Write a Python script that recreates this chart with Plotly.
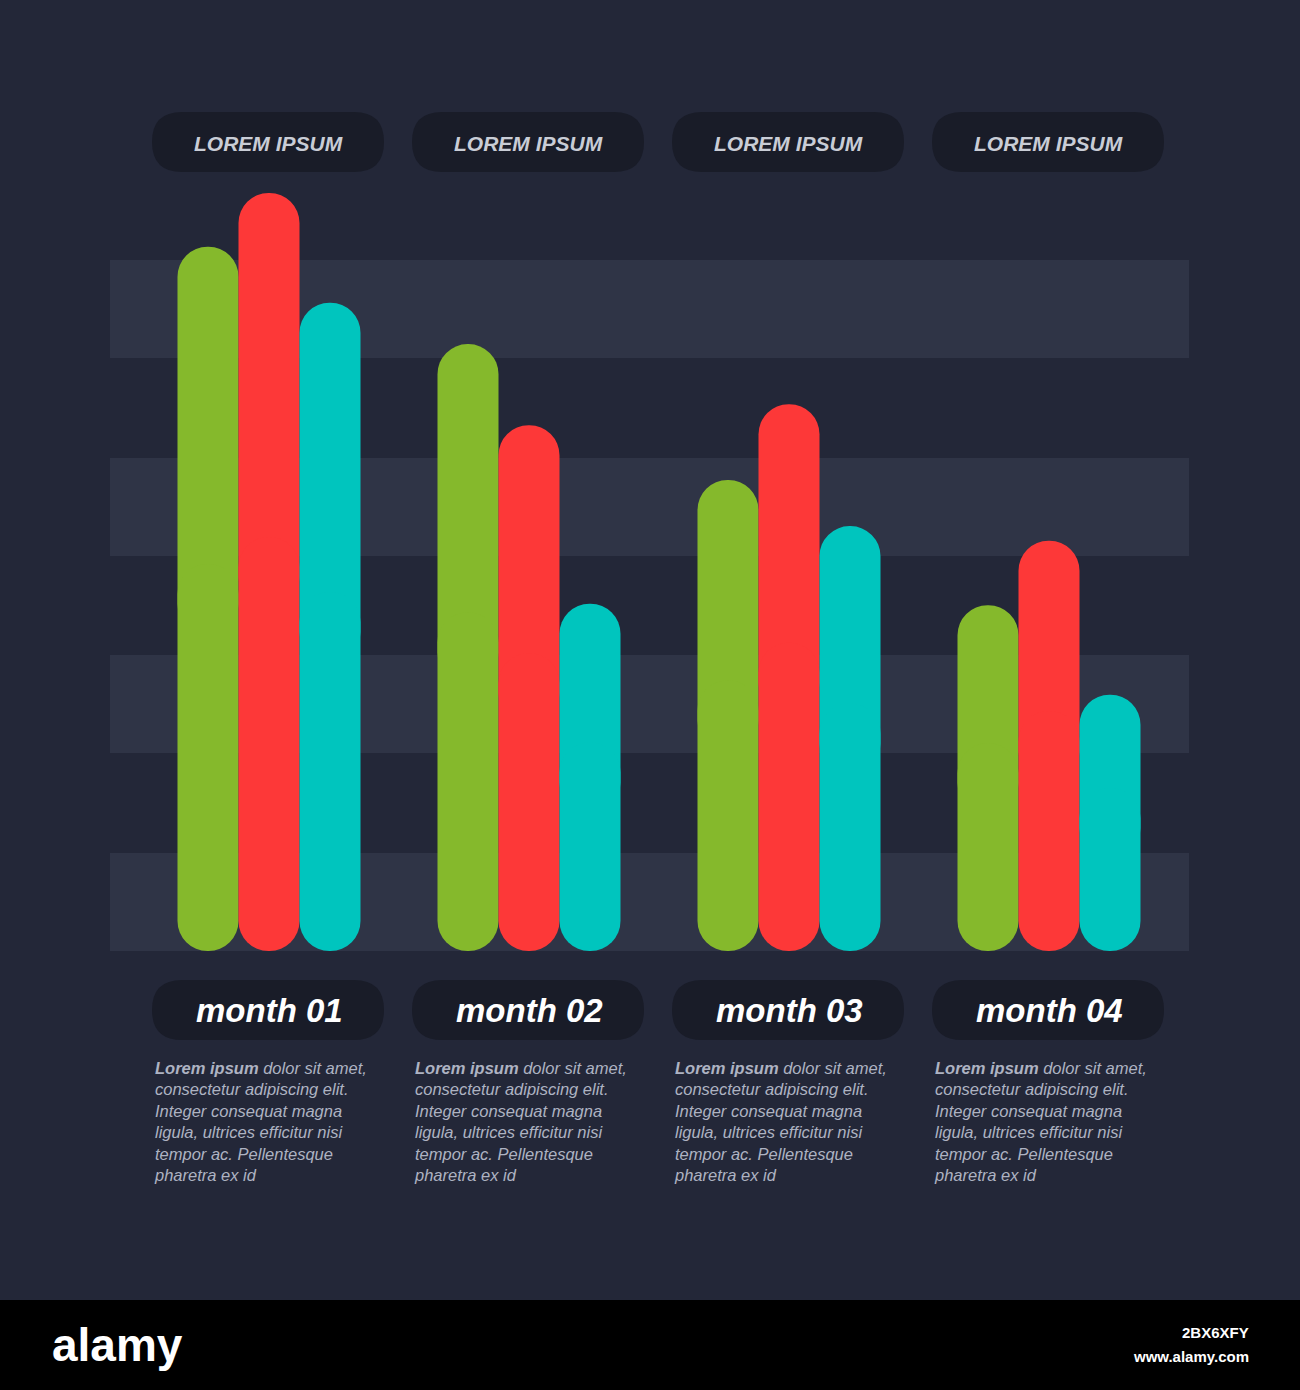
import plotly.graph_objects as go

W, H = 1300, 1390

months = ["month 01", "month 02", "month 03", "month 04"]
headers = ["LOREM IPSUM"] * 4
series_colors = ["#85b92c", "#fd3838", "#00c5be"]
green = [100.6, 86.7, 67.3, 49.4]
red = [108.3, 75.1, 78.1, 58.6]
teal = [92.6, 49.6, 60.7, 36.6]
blurb = ("<b>Lorem ipsum</b> dolor sit amet,<br>consectetur adipiscing elit.<br>"
         "Integer consequat magna<br>ligula, ultrices efficitur nisi<br>"
         "tempor ac. Pellentesque<br>pharetra ex id")

BG = "#232738"
BAND = "#2f3446"
PILL = "#191c28"

# pixel helpers (for decoration only)
def px(x):
    return x / W

def py(y):
    return 1 - y / H

def pill(x0, y0, x1, y1):
    r = (y1 - y0) / 2
    p = [f"M {px(x0 + r)} {py(y0)}", f"L {px(x1 - r)} {py(y0)}",
         f"Q {px(x1)} {py(y0)} {px(x1)} {py(y0 + r)}",
         f"Q {px(x1)} {py(y1)} {px(x1 - r)} {py(y1)}",
         f"L {px(x0 + r)} {py(y1)}",
         f"Q {px(x0)} {py(y1)} {px(x0)} {py(y0 + r)}",
         f"Q {px(x0)} {py(y0)} {px(x0 + r)} {py(y0)} Z"]
    return dict(type="path", xref="paper", yref="paper", path=" ".join(p),
                fillcolor=PILL, line_width=0, layer="below")

fig = go.Figure()

bw = 61 / 260
ov = 5  # overlap so the inner rounded ends are hidden
x = list(range(len(months)))
for k, vals in enumerate([green, red, teal]):
    off = (k - 1.5) * bw
    mk = dict(color=series_colors[k], cornerradius=30, line_width=0)
    # upper part, rounded top
    fig.add_trace(go.Bar(x=x, y=[v / 2 + ov for v in vals], base=[v / 2 - ov for v in vals],
                         width=bw, offset=off, marker=mk, showlegend=False, hoverinfo="skip"))
    # lower part, drawn downwards so its bottom is rounded
    fig.add_trace(go.Bar(x=x, y=[-(v / 2 + ov) for v in vals], base=[v / 2 + ov for v in vals],
                         width=bw, offset=off, marker=mk, showlegend=False, hoverinfo="skip"))

shapes = []
for y0 in [260, 458, 655, 853]:
    shapes.append(dict(type="rect", xref="paper", yref="paper", x0=px(110), x1=px(1189),
                       y0=py(y0 + 98), y1=py(y0), fillcolor=BAND, line_width=0, layer="below"))
shapes.append(dict(type="rect", xref="paper", yref="paper", x0=0, x1=1, y0=0, y1=py(1300),
                   fillcolor="#000000", line_width=0, layer="below"))

ann = []
for i, m in enumerate(months):
    cx = 269 + 260 * i
    shapes.append(pill(cx - 117, 112, cx + 115, 172))
    shapes.append(pill(cx - 117, 980, cx + 115, 1040))
    ann.append(dict(x=px(cx - 1), y=py(143), text=f"<b><i>{headers[i]}</i></b>",
                    xanchor="center", yanchor="middle",
                    font=dict(size=21, color="#c9cdd6")))
    ann.append(dict(x=px(cx), y=py(1010), text=f"<b><i>{m}</i></b>",
                    xanchor="center", yanchor="middle",
                    font=dict(size=33, color="#ffffff")))
    ann.append(dict(x=px(cx - 117), y=py(1057), text=f"<i>{blurb}</i>", xanchor="left",
                    yanchor="top", align="left", font=dict(size=16.5, color="#aeb3c2")))

ann.append(dict(x=px(50), y=py(1345), text="<b>alamy</b>", xanchor="left", yanchor="middle",
                font=dict(size=46, color="#ffffff", family="Liberation Sans Narrow, Arial")))
ann.append(dict(x=px(1251), y=py(1332), text="<b>2BX6XFY</b>", xanchor="right", yanchor="middle",
                font=dict(size=15, color="#ffffff")))
ann.append(dict(x=px(1251), y=py(1356), text="<b>www.alamy.com</b>", xanchor="right",
                yanchor="middle", font=dict(size=15, color="#ffffff")))
for a in ann:
    a.update(xref="paper", yref="paper", showarrow=False)

fig.update_layout(
    width=W, height=H, margin=dict(l=0, r=0, t=0, b=0),
    paper_bgcolor=BG, plot_bgcolor="rgba(0,0,0,0)",
    barmode="overlay",
    font=dict(family="Liberation Sans, Arial, sans-serif"),
    xaxis=dict(range=[-269 / 260, (W - 269) / 260], visible=False, fixedrange=True),
    yaxis=dict(range=[-(H - 951) / 7, 951 / 7], visible=False, fixedrange=True),
    shapes=shapes, annotations=ann,
)

fig.write_html("out.html", config={"displayModeBar": False},
               post_script="document.body.style.margin='0';")
